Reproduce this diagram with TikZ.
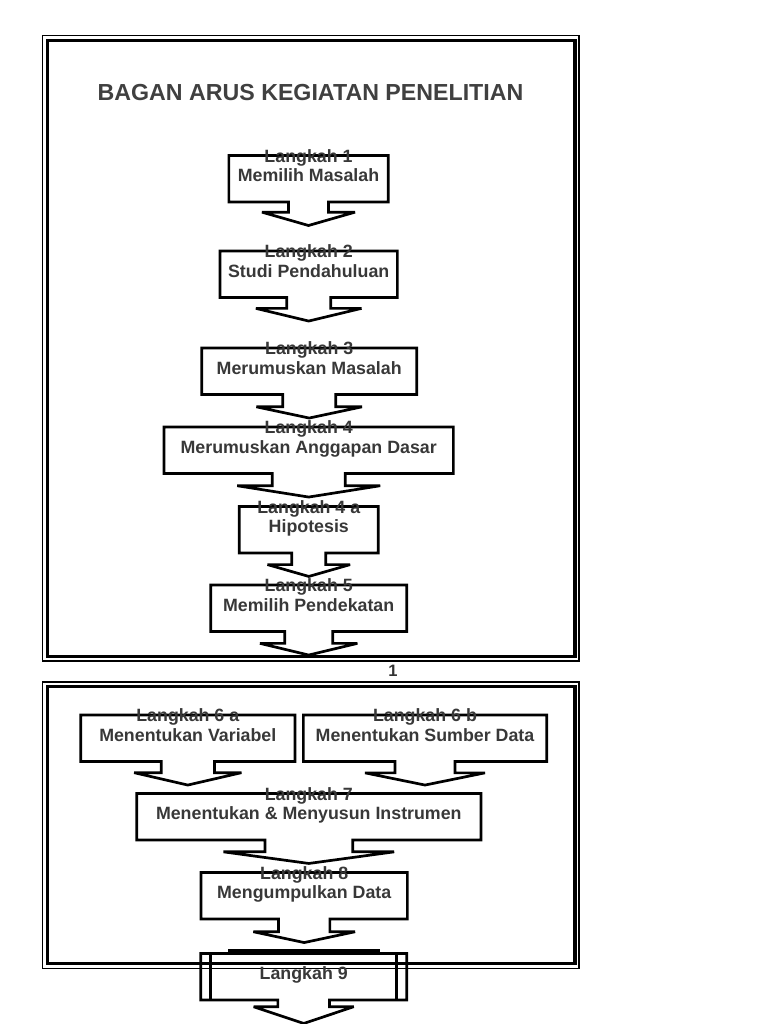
\documentclass[tikz,border=0pt]{standalone}
\usepackage{fontspec}
\setmainfont{Liberation Sans}
\usetikzlibrary{shapes.arrows}
\newcommand{\langkah}[2]{\begin{tabular}[b]{@{}c@{}}Langkah #1\\#2\end{tabular}}

\begin{document}
\begin{tikzpicture}[x=1pt, y=-1pt,
  langkah/.style={arrow box, draw, line width=2.7pt, miter limit=4, outer sep=0pt, inner sep=0pt,
    text height=26pt, text depth=20.5pt, text=black!78,
    font=\fontsize{17.8}{19.4}\selectfont\bfseries,
    arrow box north arrow=-1pt, arrow box east arrow=-1pt,
    arrow box west arrow=-1pt, arrow box south arrow=23.5pt},
  ekor/.style n args={4}{minimum width=#1pt, arrow box shaft width=#2pt,
    arrow box head extend=#3pt, arrow box tip angle=#4},
  tipis/.style={line width=1.3pt},
  tebal/.style={line width=3.2pt}]

\useasboundingbox (0,0) rectangle (768,1024);

\draw [tipis] (42.5,35.5) rectangle (579,661);
\draw [tebal] (47.5,40.5) rectangle (575,656.5);
\draw [tipis] (42.5,682) rectangle (579,968.3);
\draw [tebal] (47.5,686.8) rectangle (575,963.5);

\node [font=\fontsize{23.2}{27}\selectfont\bfseries, text=black!75, anchor=base] (judul) at (310.5,101) {BAGAN ARUS KEGIATAN PENELITIAN};
\node [font=\fontsize{16.5}{19}\selectfont\bfseries, text=black!80, anchor=base] (halaman) at (393,676) {1};

\foreach \nama/\lk/\cx/\cy/\w/\s/\e/\a/\teks in {
  l1/1/308.5/178.75/159.3/40/26.5/148/Memilih Masalah,
  l2/2/308.7/274.3/177.3/44/30.8/153/Studi Pendahuluan,
  l3/3/309.2/371.3/215/53/26.3/156/Merumuskan Masalah,
  l4/4/308.7/450.3/289.3/73/35/162/Merumuskan Anggapan Dasar,
  l4a/4 a/308.8/529.7/139/34/24.3/148/Hipotesis,
  l5/5/308.7/608.3/196/48/24.7/153/Memilih Pendekatan,
  l6a/6 a/187.8/738.3/214.3/53.3/27/154/Menentukan Variabel,
  l6b/6 b/425/738.3/243.3/60/30/157/Menentukan Sumber Data,
  l7/7/308.8/816.7/344.3/87.7/41.5/164.5/Menentukan \& Menyusun Instrumen,
  l8/8/304.2/895.8/206.3/51.3/25.2/156/Mengumpulkan Data,
  l9/9/303.7/976.7/206/51.7/24.2/143/{}}
  \node [langkah, ekor={\w}{\s}{\e}{\a}] (\nama) at (\cx,\cy) {\langkah{\lk}{\teks}};

% sisi ganda langkah 9
\draw [line width=2.7pt] (210.7,953.3) -- (210.7,1000) (396.7,953.3) -- (396.7,1000);
\draw [line width=3pt] (228.3,950.5) -- (380,950.5);

\end{tikzpicture}
\end{document}
